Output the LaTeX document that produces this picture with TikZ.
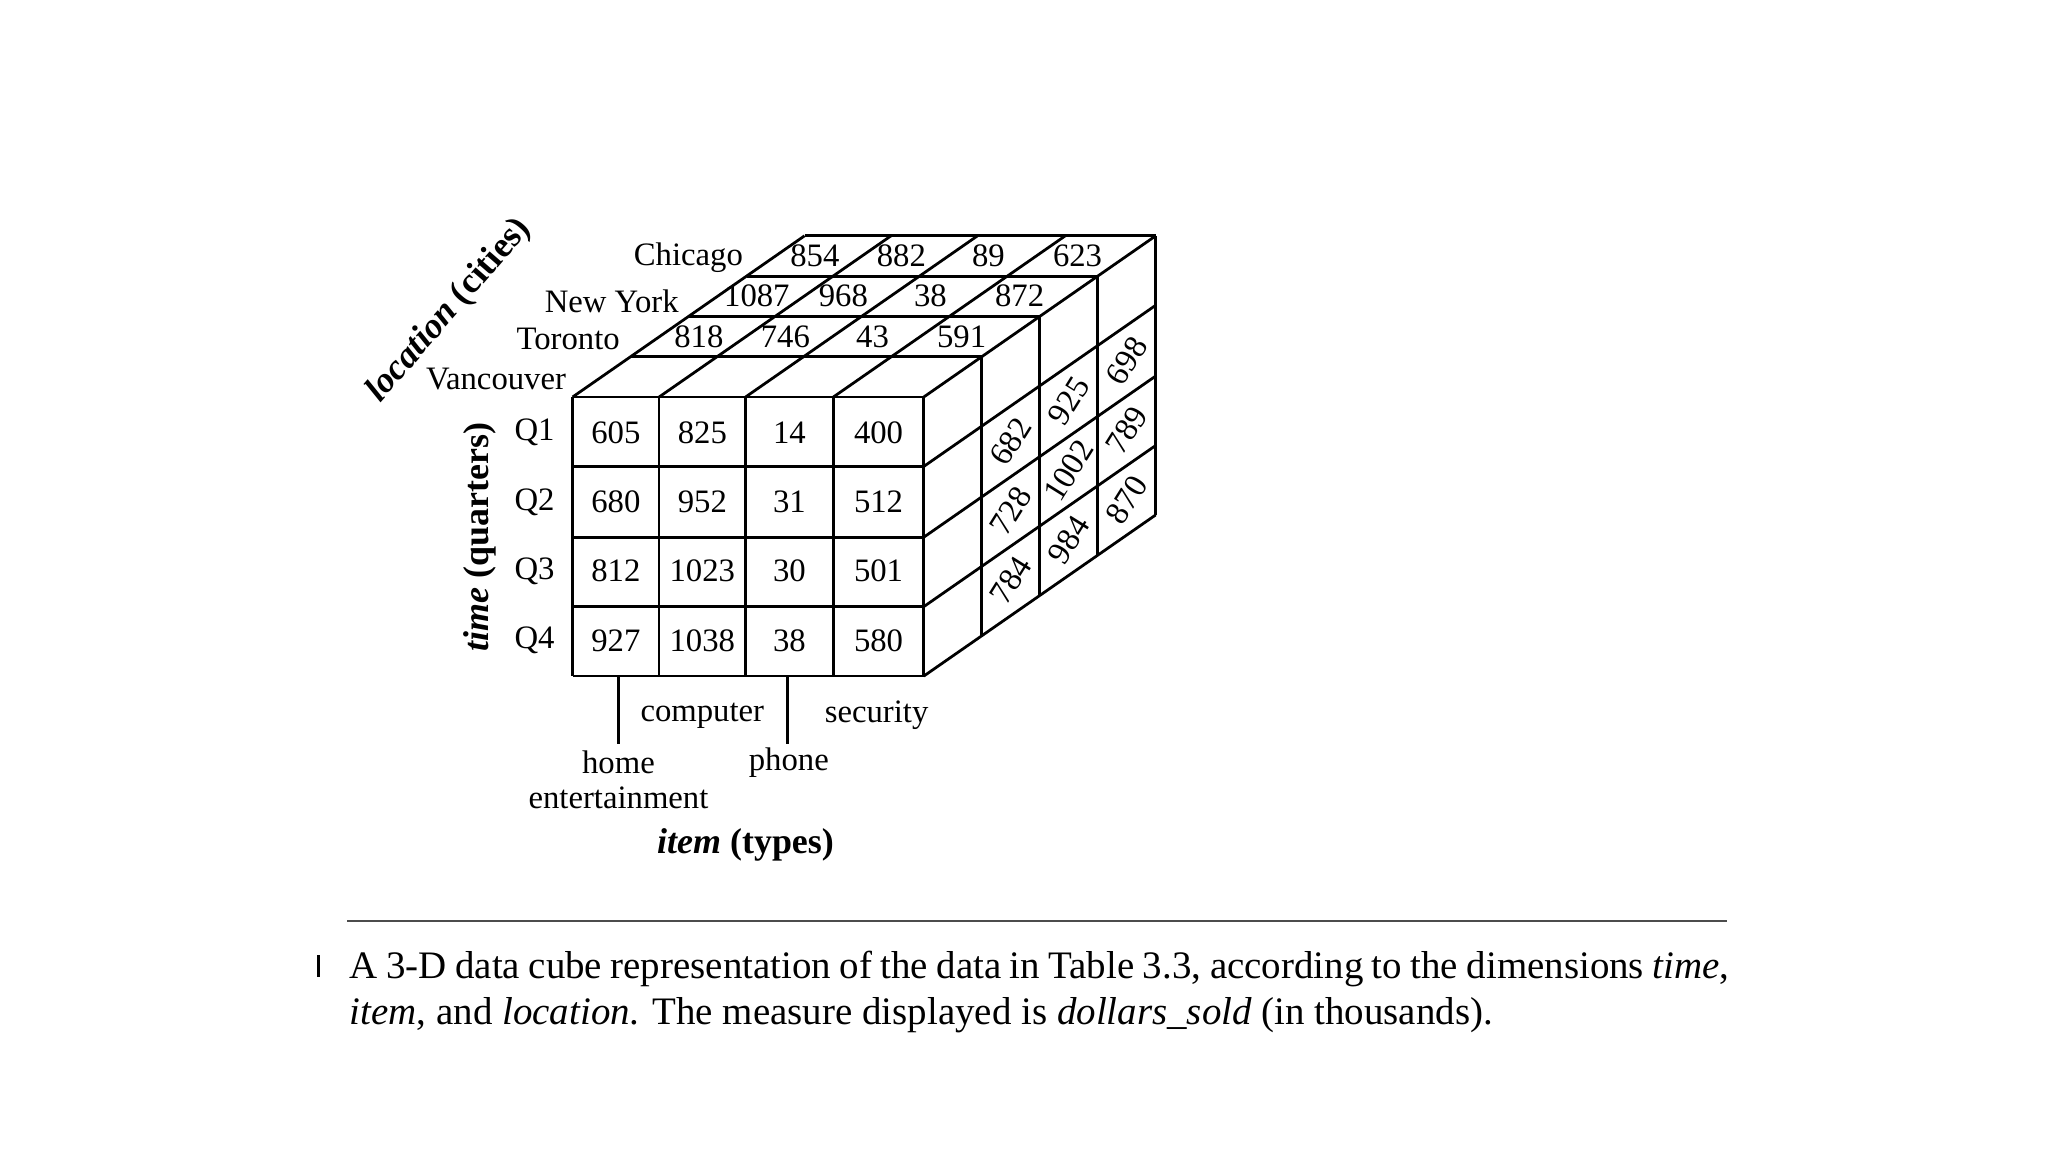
\documentclass[tikz,border=0pt]{standalone}
\usepackage{fontspec}
\setmainfont{Liberation Serif}
\begin{document}
\begin{tikzpicture}[x=0.01cm,y=-0.01cm,line width=0.6pt,
  lab/.style={font=\fontsize{7.1}{8}\selectfont,inner sep=0pt},
  num/.style={lab},
  ax/.style={font=\fontsize{7.8}{9}\selectfont\bfseries,inner sep=0pt}]
\useasboundingbox (0,0) rectangle (1563,880);
% front grid
\foreach \x in {437,503,569,636,705} \draw (\x,303)--(\x,516);
\foreach \y in {303,356,410,463,516} \draw (437,\y)--(705,\y);
% top
\foreach \k in {0,...,4} \draw ({437+44.25*\k},{303-30.75*\k}) -- ({705+44.25*\k},{303-30.75*\k});
\foreach \x in {437,503,569,636,705} \draw (\x,303) -- ++(177,-123);
% side
\foreach \y in {356,410,463,516} \draw (705,\y) -- ++(177,-123);
\foreach \k in {1,...,4} \draw ({705+44.25*\k},{303-30.75*\k}) -- ({705+44.25*\k},{516-30.75*\k});
% front values
\foreach \r/\vals in {330/{605,825,14,400},383/{680,952,31,512},436/{812,1023,30,501},489/{927,1038,38,580}}{
  \foreach \v [count=\c] in \vals {
    \pgfmathsetmacro\cx{{470,536,602.5,670.5}[\c-1]}
    \node[num] (f\r-\c) at (\cx,\r) {\v};
  }}
% top values
\foreach \d/\vals in {1.5/{818,746,43,591},2.5/{1087,968,38,872},3.5/{854,882,89,623}}{
  \foreach \v [count=\c] in \vals {
    \pgfmathsetmacro\cx{{470,536,602.5,670.5}[\c-1]+44.25*\d-3}
    \pgfmathsetmacro\cy{303-30.75*\d}
    \node[num] (t\d-\c) at (\cx,\cy) {\v};
  }}
% side values
\foreach \d/\vals in {1.5/{682,728,784},2.5/{925,1002,984},3.5/{698,789,870}}{
  \foreach \v [count=\c] in \vals {
    \pgfmathsetmacro\cx{705+44.25*\d}
    \pgfmathsetmacro\cy{{383,436,489}[\c-1]-30.75*\d}
    \node[num,rotate=58] (s\d-\c) at (\cx,\cy) {\v};
  }}
% row labels
\node[lab,anchor=east] (van) at (433,289) {Vancouver};
\node[lab,anchor=east] (tor) at (474,259) {Toronto};
\node[lab,anchor=east] (ny) at (519,230) {New York};
\node[lab,anchor=east] (chi) at (568,197) {Chicago};
\foreach \q/\y in {1/330,2/383,3/436,4/489} \node[lab] (q\q) at (408,\y) {Q\q};
\node[ax,rotate=90] (time) at (366,410) {\textit{time} (quarters)};
\node[ax,rotate=49] (loc) at (343,237) {\textit{location} (cities)};
% item
\coordinate (h1) at (472,516); \coordinate (h2) at (472,568);
\coordinate (p1) at (601,516); \coordinate (p2) at (601,568);
\draw (h1)--(h2); \draw (p1)--(p2);
\node[lab] (comp) at (536,546) {computer};
\node[lab] (sec) at (669,546) {security};
\node[lab] (home) at (472,582) {home};
\node[lab] (ent) at (472,609) {entertainment};
\node[lab] (phone) at (602,582) {phone};
\node[ax] (item) at (569,645) {\textit{item} (types)};
% caption
\coordinate (r1) at (265,703); \coordinate (r2) at (1318,703);
\draw[line width=0.5pt,black!70] (r1)--(r2);
\draw[line width=0.8pt] (243,729)--(243,746);
\node[anchor=north west,inner sep=0pt,text width=10.52cm,align=justify,
  font=\fontsize{8.45}{10}\selectfont] (cap) at (266,725)
  {A 3-D data cube representation of the data in Table 3.3, according to the dimensions \textit{time},\linebreak
  \textit{item}, and \textit{location}. The measure displayed is \textit{dollars\_sold} (in thousands).};
\end{tikzpicture}
\end{document}
